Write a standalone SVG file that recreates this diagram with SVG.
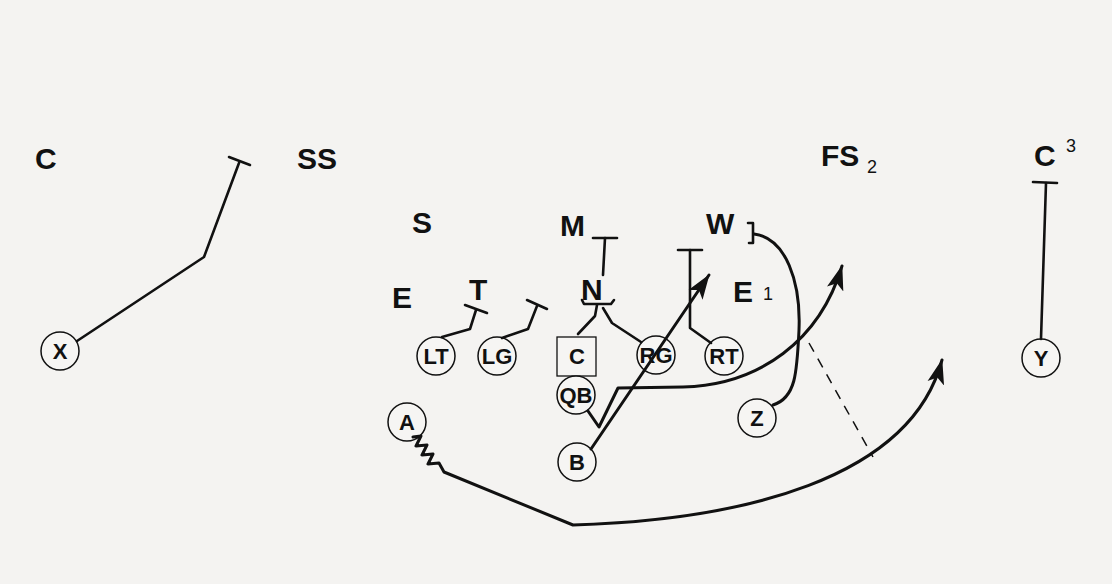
<svg xmlns="http://www.w3.org/2000/svg" width="1112" height="584" viewBox="0 0 1112 584">
<style>
.bg{fill:#f4f3f1}
.lbl{font-family:"Liberation Sans",Arial,sans-serif;font-weight:bold;font-size:30px;fill:#111}
.sm{font-family:"Liberation Sans",Arial,sans-serif;font-size:18px;fill:#111}
.pl circle{fill:#f6f5f3;stroke:#111;stroke-width:1.5}
.pl rect{fill:#f6f5f3;stroke:#111;stroke-width:1.3}
.pt{font-family:"Liberation Sans",Arial,sans-serif;font-weight:bold;font-size:22px;fill:#111;text-anchor:middle}
.r{fill:none;stroke:#111;stroke-width:3;stroke-linejoin:round;stroke-linecap:round}
.thin{fill:none;stroke:#111;stroke-width:2.6;stroke-linejoin:round;stroke-linecap:round}
.dash{fill:none;stroke:#111;stroke-width:1.5;stroke-dasharray:10,8}
</style>
<defs>
<marker id="arr" markerUnits="userSpaceOnUse" markerWidth="26" markerHeight="20" viewBox="0 0 26 20" refX="24" refY="10" orient="auto">
<path d="M0,1.5 L25,10 L0,18.5 L6,10 Z" fill="#111"/>
</marker>
</defs>
<rect class="bg" x="0" y="0" width="1112" height="584"/>

<g id="defense">
<text class="lbl" x="35" y="169">C</text>
<text class="lbl" x="297" y="169">SS</text>
<text class="lbl" x="412" y="233">S</text>
<text class="lbl" x="560" y="236">M</text>
<text class="lbl" x="706" y="234">W</text>
<text class="lbl" x="821" y="166">FS</text>
<text class="sm" x="867" y="173">2</text>
<text class="lbl" x="1034" y="166">C</text>
<text class="sm" x="1066" y="152">3</text>
<text class="lbl" x="392" y="308">E</text>
<text class="lbl" x="469" y="300">T</text>
<text class="lbl" x="581" y="300">N</text>
<text class="lbl" x="733" y="302">E</text>
<text class="sm" x="763" y="300">1</text>
</g>

<g id="offense" class="pl">
<g id="X"><circle cx="60" cy="351" r="19"/><text class="pt" x="60" y="359">X</text></g>
<g id="LT"><circle cx="436" cy="356" r="19"/><text class="pt" x="436" y="364">LT</text></g>
<g id="LG"><circle cx="497" cy="356" r="19"/><text class="pt" x="497" y="364">LG</text></g>
<g id="Cn"><rect x="557" y="337" width="39" height="39"/><text class="pt" x="577" y="364">C</text></g>
<g id="RG"><circle cx="656" cy="355" r="19"/><text class="pt" x="656" y="363">RG</text></g>
<g id="RT"><circle cx="724" cy="356" r="19"/><text class="pt" x="724" y="364">RT</text></g>
<g id="QB"><circle cx="576" cy="395" r="19"/><text class="pt" x="576" y="403">QB</text></g>
<g id="A"><circle cx="407" cy="422" r="19"/><text class="pt" x="407" y="430">A</text></g>
<g id="B"><circle cx="577" cy="462" r="19"/><text class="pt" x="577" y="470">B</text></g>
<g id="Z"><circle cx="757" cy="418" r="19"/><text class="pt" x="757" y="426">Z</text></g>
<g id="Y"><circle cx="1041" cy="358" r="19"/><text class="pt" x="1041" y="366">Y</text></g>
</g>

<g id="connectors">
<path class="thin" d="M77,341 L204,257 L239,163"/>
<path class="thin" d="M229,157 L250,165"/>
<path class="thin" d="M1041,339 L1046,183"/>
<path class="thin" d="M1033,182 L1057,183"/>
<path class="thin" d="M442,337 L470,329 L476,310"/>
<path class="thin" d="M465,305 L487,313"/>
<path class="thin" d="M502,338 L528,329 L537,306"/>
<path class="thin" d="M527,300 L547,309"/>
<path class="thin" d="M582,300 L584,304 L611,304 L614,300"/>
<path class="thin" d="M597,305 L595,316 L578,334"/>
<path class="thin" d="M603,308 L612,323 L641,342"/>
<path class="thin" d="M593,238 L617,238"/>
<path class="thin" d="M605,238 L603,275"/>
<path class="thin" d="M678,250 L702,250"/>
<path class="thin" d="M690,250 L690,328 L711,343"/>
<path class="thin" d="M748,223 L753,223 L753,243 L749,243"/>
<path class="r" d="M754,234 C786,238 801,282 799,330 C797,372 796,398 773,405"/>
<path class="r" d="M591,449 L709,275" marker-end="url(#arr)"/>
<path class="r" d="M588,411 L599,427 L618,388 L683,387 C760,385 820,340 842,266" marker-end="url(#arr)"/>
<path class="r" d="M413,437 L421,436 L416,446 L427,445 L422,455 L433,454 L428,464 L439,463 L444,472 L573,525 C740,520 910,480 942,360" marker-end="url(#arr)"/>
<path class="dash" d="M809,343 L873,457"/>
</g>
</svg>
